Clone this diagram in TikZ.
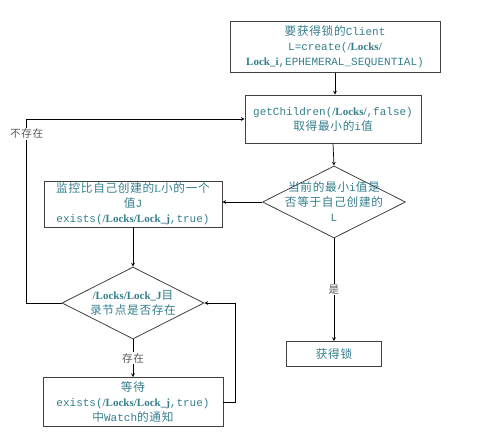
\documentclass[tikz,border=0pt]{standalone}
\usepackage{fontspec}
\setmainfont{Liberation Serif}
\setmonofont{Liberation Mono}
\newfontfamily\cjk[LetterSpace=6, Scale=1.06]{Noto Sans CJK SC}
\usepackage{tikz}
\usetikzlibrary{arrows, positioning, shapes.geometric}
\definecolor{txtc}{RGB}{52,126,140}
\newcommand{\zh}[1]{{\cjk #1}}
\newcommand{\code}[1]{{\ttfamily #1}}
\newcommand{\lk}[1]{{\bfseries #1}}
\tikzstyle{proc}=[draw=black!75, line width=0.8pt, align=center, inner sep=1pt, text=txtc, font=\fontsize{11}{15}\selectfont]
\tikzstyle{decide}=[draw=black!75, line width=0.8pt, shape=diamond, inner sep=0pt]
\tikzstyle{dtext}=[align=center, inner sep=0pt, text=txtc, font=\fontsize{11}{15}\selectfont]
\tikzstyle{lbl}=[fill=white, inner sep=1pt, text=black!65, font=\fontsize{10}{12}\cjk]
\tikzstyle{link}=[->, line width=0.7pt]
\tikzset{>=stealth}

\begin{document}
\begin{tikzpicture}[x=1pt, y=-1pt]
\useasboundingbox (0,0) rectangle (492,438);
% the boxes
\node[proc, minimum width=210pt, minimum height=51pt] (create) at (335,47)
  {\zh{要获得锁的}\code{Client}\\ \code{L=create(}\lk{/Locks/}\\ \lk{Lock\_i}\code{,EPHEMERAL\_SEQUENTIAL)}};
\node[proc, minimum width=176pt, minimum height=48pt] (children) at (333,119)
  {\code{getChildren(}\lk{/Locks/}\code{,false)}\\ \zh{取得最小的}\code{i}\zh{值}};
\node[proc, minimum width=178pt, minimum height=46pt] (watch) at (133,204)
  {\zh{监控比自己创建的}L\zh{小的一个}\\ \zh{值}\code{J}\\ \code{exists(}\lk{/Locks/Lock\_j}\code{,true)}};
\node[proc, minimum width=180pt, minimum height=49pt] (wait) at (133,402)
  {\zh{等待}\\ \code{exists(}\lk{/Locks/Lock\_j}\code{,true)}\\ \zh{中}\code{Watch}\zh{的通知}};
\node[proc, minimum width=95pt, minimum height=25pt] (gotlock) at (334,354) {\zh{获得锁}};
% the decisions
\node[decide, minimum width=143pt, minimum height=72pt] (ismin) at (334,202) {};
\node[dtext] at (ismin) {\zh{当前的最小}\code{i}\zh{值是}\\ \zh{否等于自己创建的}\\ \code{L}};
\node[decide, minimum width=142pt, minimum height=72pt] (exists) at (133,303) {};
\node[dtext] at (exists) {\lk{/Locks/Lock\_J}\zh{目}\\ \zh{录节点是否存在}};
% the connectors
\draw[link] (create.south) -- (create.south |- children.north);
\draw[link] (children.south) -- (ismin.north);
\draw[link] (ismin.west) -- (watch.east |- ismin.west);
\draw[link] (ismin.south) -- node[lbl] {是} (gotlock.north);
\draw[link] (watch.south) -- (exists.north);
\draw[link] (exists.south) -- node[lbl] {存在} (wait.north);
\draw[link] (exists.west) -- ++(-35,0) |- node[lbl, pos=0.46] {不存在} (children.west);
\draw[link] (wait.east) -- ++(12,0) |- (exists.east);
\end{tikzpicture}
\end{document}
